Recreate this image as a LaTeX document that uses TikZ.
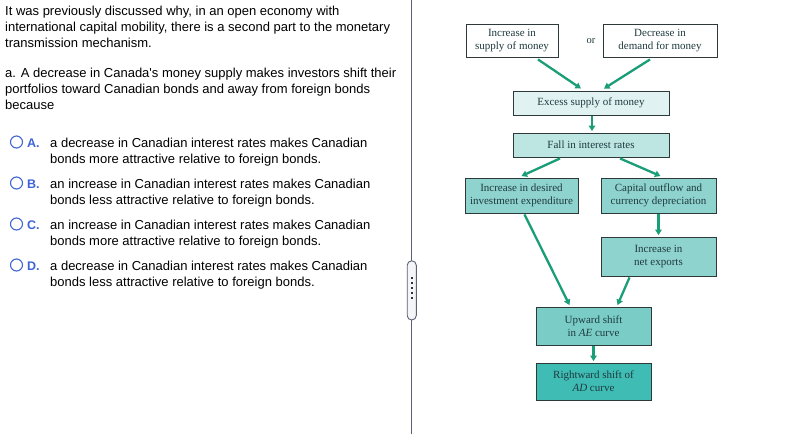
\documentclass[tikz,border=0pt]{standalone}
\usepackage{fontspec}
\setmainfont{Liberation Serif}
\newfontfamily\qfont{Liberation Sans}
\usetikzlibrary{arrows.meta}
\definecolor{arrowc}{HTML}{1A9E78}
\definecolor{boxline}{HTML}{2E3A3A}
\definecolor{boxtext}{HTML}{1F3A3E}
\definecolor{fillA}{HTML}{E0F3F2}
\definecolor{fillB}{HTML}{BDE6E3}
\definecolor{fillC}{HTML}{8FD3CE}
\definecolor{fillD}{HTML}{7ACDC7}
\definecolor{fillE}{HTML}{3FBDB5}
\definecolor{optblue}{HTML}{3F64D6}
\definecolor{divc}{HTML}{5B6170}
\definecolor{handlefill}{HTML}{F4F5F7}
\tikzset{
  fbox/.style={draw=boxline, line width=0.9pt, inner sep=0pt, align=center,
    text=boxtext, font=\fontsize{11}{13}\selectfont},
  flow/.style={draw=arrowc, line width=2.3pt, -{Triangle[length=5.5pt,width=6.5pt]}},
  qline/.style={anchor=base west, inner sep=0pt, font=\qfont\fontsize{13}{16}\selectfont, text=black},
  optcircle/.style={draw=optblue, line width=1.1pt, circle, minimum size=12pt, inner sep=0pt},
  optletter/.style={anchor=base west, inner sep=0pt, font=\qfont\bfseries\fontsize{12.5}{16}\selectfont, text=optblue},
  handle/.style={draw=divc, fill=handlefill, line width=0.9pt, rounded corners=4.5pt},
  hdot/.style={fill=black!80, inner sep=0pt, minimum size=1.8pt}
}
\begin{document}
\begin{tikzpicture}[x=1pt,y=-1pt]
\useasboundingbox (0,0) rectangle (796,434);
\fill[white] (0,0) rectangle (796,434);
% divider
\draw[divc, line width=0.9pt] (411.5,0) -- (411.5,434);
\draw[handle] (407.2,260.8) rectangle (416.3,320);
\foreach \i [count=\k] in {278.3,283.3,288.3,293.3,298.3} {
  \node[hdot] (hd\k) at (411.7,\i) {};
}
% question text
\node[qline] (q1) at (5,15) {It was previously discussed why, in an open economy with};
\node[qline] (q2) at (5,31) {international capital mobility, there is a second part to the monetary};
\node[qline] (q3) at (5,47) {transmission mechanism.};
\node[qline] (q4) at (5,77) {a. A decrease in Canada's money supply makes investors shift their};
\node[qline] (q5) at (5,93) {portfolios toward Canadian bonds and away from foreign bonds};
\node[qline] (q6) at (5,109) {because};
% options
\node[optcircle] (cA) at (16.5,142) {};
\node[optletter] (lA) at (27,147) {A.};
\node[qline] (tA1) at (50,147) {a decrease in Canadian interest rates makes Canadian};
\node[qline] (tA2) at (50,163) {bonds more attractive relative to foreign bonds.};
\node[optcircle] (cB) at (16.5,183) {};
\node[optletter] (lB) at (27,188) {B.};
\node[qline] (tB1) at (50,188) {an increase in Canadian interest rates makes Canadian};
\node[qline] (tB2) at (50,204) {bonds less attractive relative to foreign bonds.};
\node[optcircle] (cC) at (16.5,224) {};
\node[optletter] (lC) at (27,229) {C.};
\node[qline] (tC1) at (50,229) {an increase in Canadian interest rates makes Canadian};
\node[qline] (tC2) at (50,245) {bonds more attractive relative to foreign bonds.};
\node[optcircle] (cD) at (16.5,265) {};
\node[optletter] (lD) at (27,270) {D.};
\node[qline] (tD1) at (50,270) {a decrease in Canadian interest rates makes Canadian};
\node[qline] (tD2) at (50,286) {bonds less attractive relative to foreign bonds.};
% flow boxes
\node[fbox, fill=white, minimum width=92pt, minimum height=33pt] (b1) at (512,40.5) {Increase in\\supply of money};
\node[fbox, fill=white, minimum width=114pt, minimum height=33pt] (b2) at (660,40.5) {Decrease in\\demand for money};
\node[inner sep=0pt, text=boxtext, font=\fontsize{10.5}{12}\selectfont] (or) at (591,41) {or};
\node[fbox, fill=fillA, minimum width=156pt, minimum height=24pt] (b3) at (591,103) {Excess supply of money};
\node[fbox, fill=fillB, minimum width=156pt, minimum height=24pt] (b4) at (591,145) {Fall in interest rates};
\node[fbox, fill=fillC, minimum width=113pt, minimum height=35pt] (b5) at (521.5,195.5) {Increase in desired\\investment expenditure};
\node[fbox, fill=fillC, minimum width=115pt, minimum height=35pt] (b6) at (658.5,195.5) {Capital outflow and\\currency depreciation};
\node[fbox, fill=fillC, minimum width=115pt, minimum height=39pt] (b7) at (658.5,256.5) {Increase in\\net exports};
\node[fbox, fill=fillD, minimum width=115pt, minimum height=38pt] (b8) at (593.5,326) {Upward shift\\in \textit{AE} curve};
\node[fbox, fill=fillE, minimum width=115pt, minimum height=37pt] (b9) at (593.5,381.5) {Rightward shift of\\\textit{AD} curve};
% connectors
\draw[flow] ([xshift=26pt,yshift=-2pt]b1.south) -- ([xshift=-10pt,yshift=2pt]b3.north);
\draw[flow] ([xshift=-10pt,yshift=-2pt]b2.south) -- ([xshift=13pt,yshift=2pt]b3.north);
\draw[flow] ([xshift=1pt,yshift=-1pt]b3.south) -- ([xshift=1pt,yshift=1.5pt]b4.north);
\draw[flow] ([xshift=-31pt,yshift=-1pt]b4.south) -- ([xshift=0pt,yshift=1.5pt]b5.north);
\draw[flow] ([xshift=29pt,yshift=-1pt]b4.south) -- ([xshift=2pt,yshift=1.5pt]b6.north);
\draw[flow] ([yshift=-1pt]b6.south) -- ([yshift=1.5pt]b7.north);
\draw[flow] ([xshift=3pt,yshift=-1pt]b5.south) -- ([xshift=-24pt,yshift=1.5pt]b8.north);
\draw[flow] ([xshift=-29pt,yshift=-1pt]b7.south) -- ([xshift=24pt,yshift=1.5pt]b8.north);
\draw[flow] ([yshift=-1pt]b8.south) -- ([yshift=1.5pt]b9.north);
\end{tikzpicture}
\end{document}
